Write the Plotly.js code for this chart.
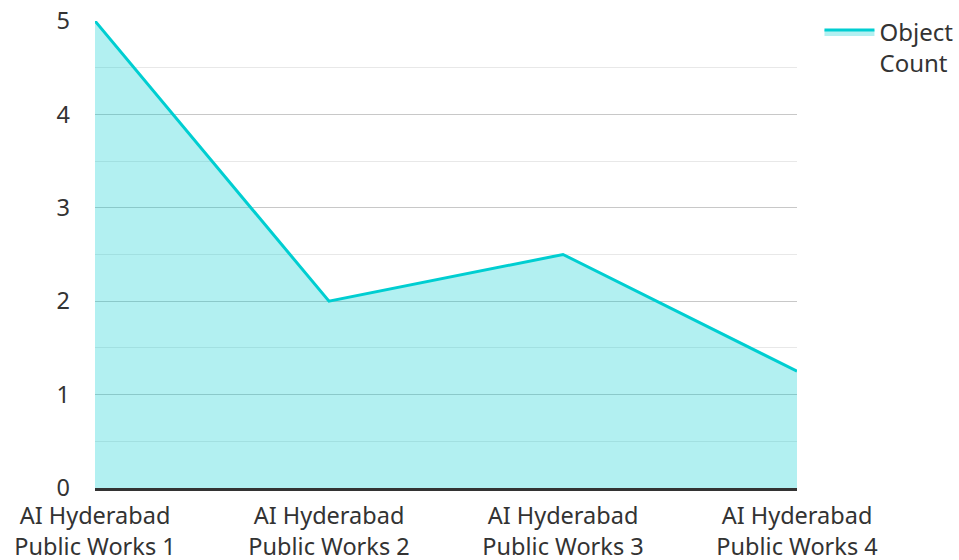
<!DOCTYPE html>
<html>
<head>
<meta charset="utf-8">
<script src="https://cdn.plot.ly/plotly-3.0.1.min.js"></script>
<style>html,body{margin:0;padding:0;background:#fff}#chart{width:959px;height:560px}</style>
</head>
<body>
<div id="chart"></div>
<script>
var categories = ["AI Hyderabad<br>Public Works 1", "AI Hyderabad<br>Public Works 2", "AI Hyderabad<br>Public Works 3", "AI Hyderabad<br>Public Works 4"];
var objectCount = [5, 2, 2.5, 1.25];
var seriesName = "Object<br>Count";
var yTicks = [0, 1, 2, 3, 4, 5];

var trace = {
  x: categories,
  y: objectCount,
  type: 'scatter',
  mode: 'lines',
  name: seriesName,
  fill: 'tozeroy',
  fillcolor: 'rgba(0,206,209,0.3)',
  line: {color: '#00CED1', width: 3}
};

var layout = {
  width: 959, height: 560,
  margin: {l: 95, r: 162, t: 21, b: 72, autoexpand: false},
  paper_bgcolor: '#fff', plot_bgcolor: '#fff',
  font: {family: 'Noto Sans, Open Sans, sans-serif', size: 24, color: '#444'},
  showlegend: true,
  legend: {x: 1.032, y: 1.024, xanchor: 'left', yanchor: 'top', valign: 'top', itemwidth: 50, font: {size: 24, color: '#333'}, bgcolor: 'rgba(0,0,0,0)'},
  xaxis: {
    type: 'category', range: [0, 3], showgrid: false, zeroline: false,
    showline: true, linecolor: '#333', linewidth: 3,
    ticks: '', ticklabelstandoff: 5, tickfont: {size: 23.5, color: '#333'}, automargin: false, fixedrange: true
  },
  yaxis: {
    range: [0, 5], tickvals: yTicks, showgrid: true, gridcolor: '#c8c8c8', gridwidth: 1,
    minor: {dtick: 0.5, showgrid: true, gridcolor: '#e8e8e8', gridwidth: 1},
    zeroline: false, showline: false, ticks: '', ticklen: 0, ticklabelstandoff: 24,
    tickfont: {size: 23.5, color: '#333'}, automargin: false, fixedrange: true
  }
};

Plotly.newPlot('chart', [trace], layout, {displayModeBar: false, staticPlot: true});
</script>
</body>
</html>
